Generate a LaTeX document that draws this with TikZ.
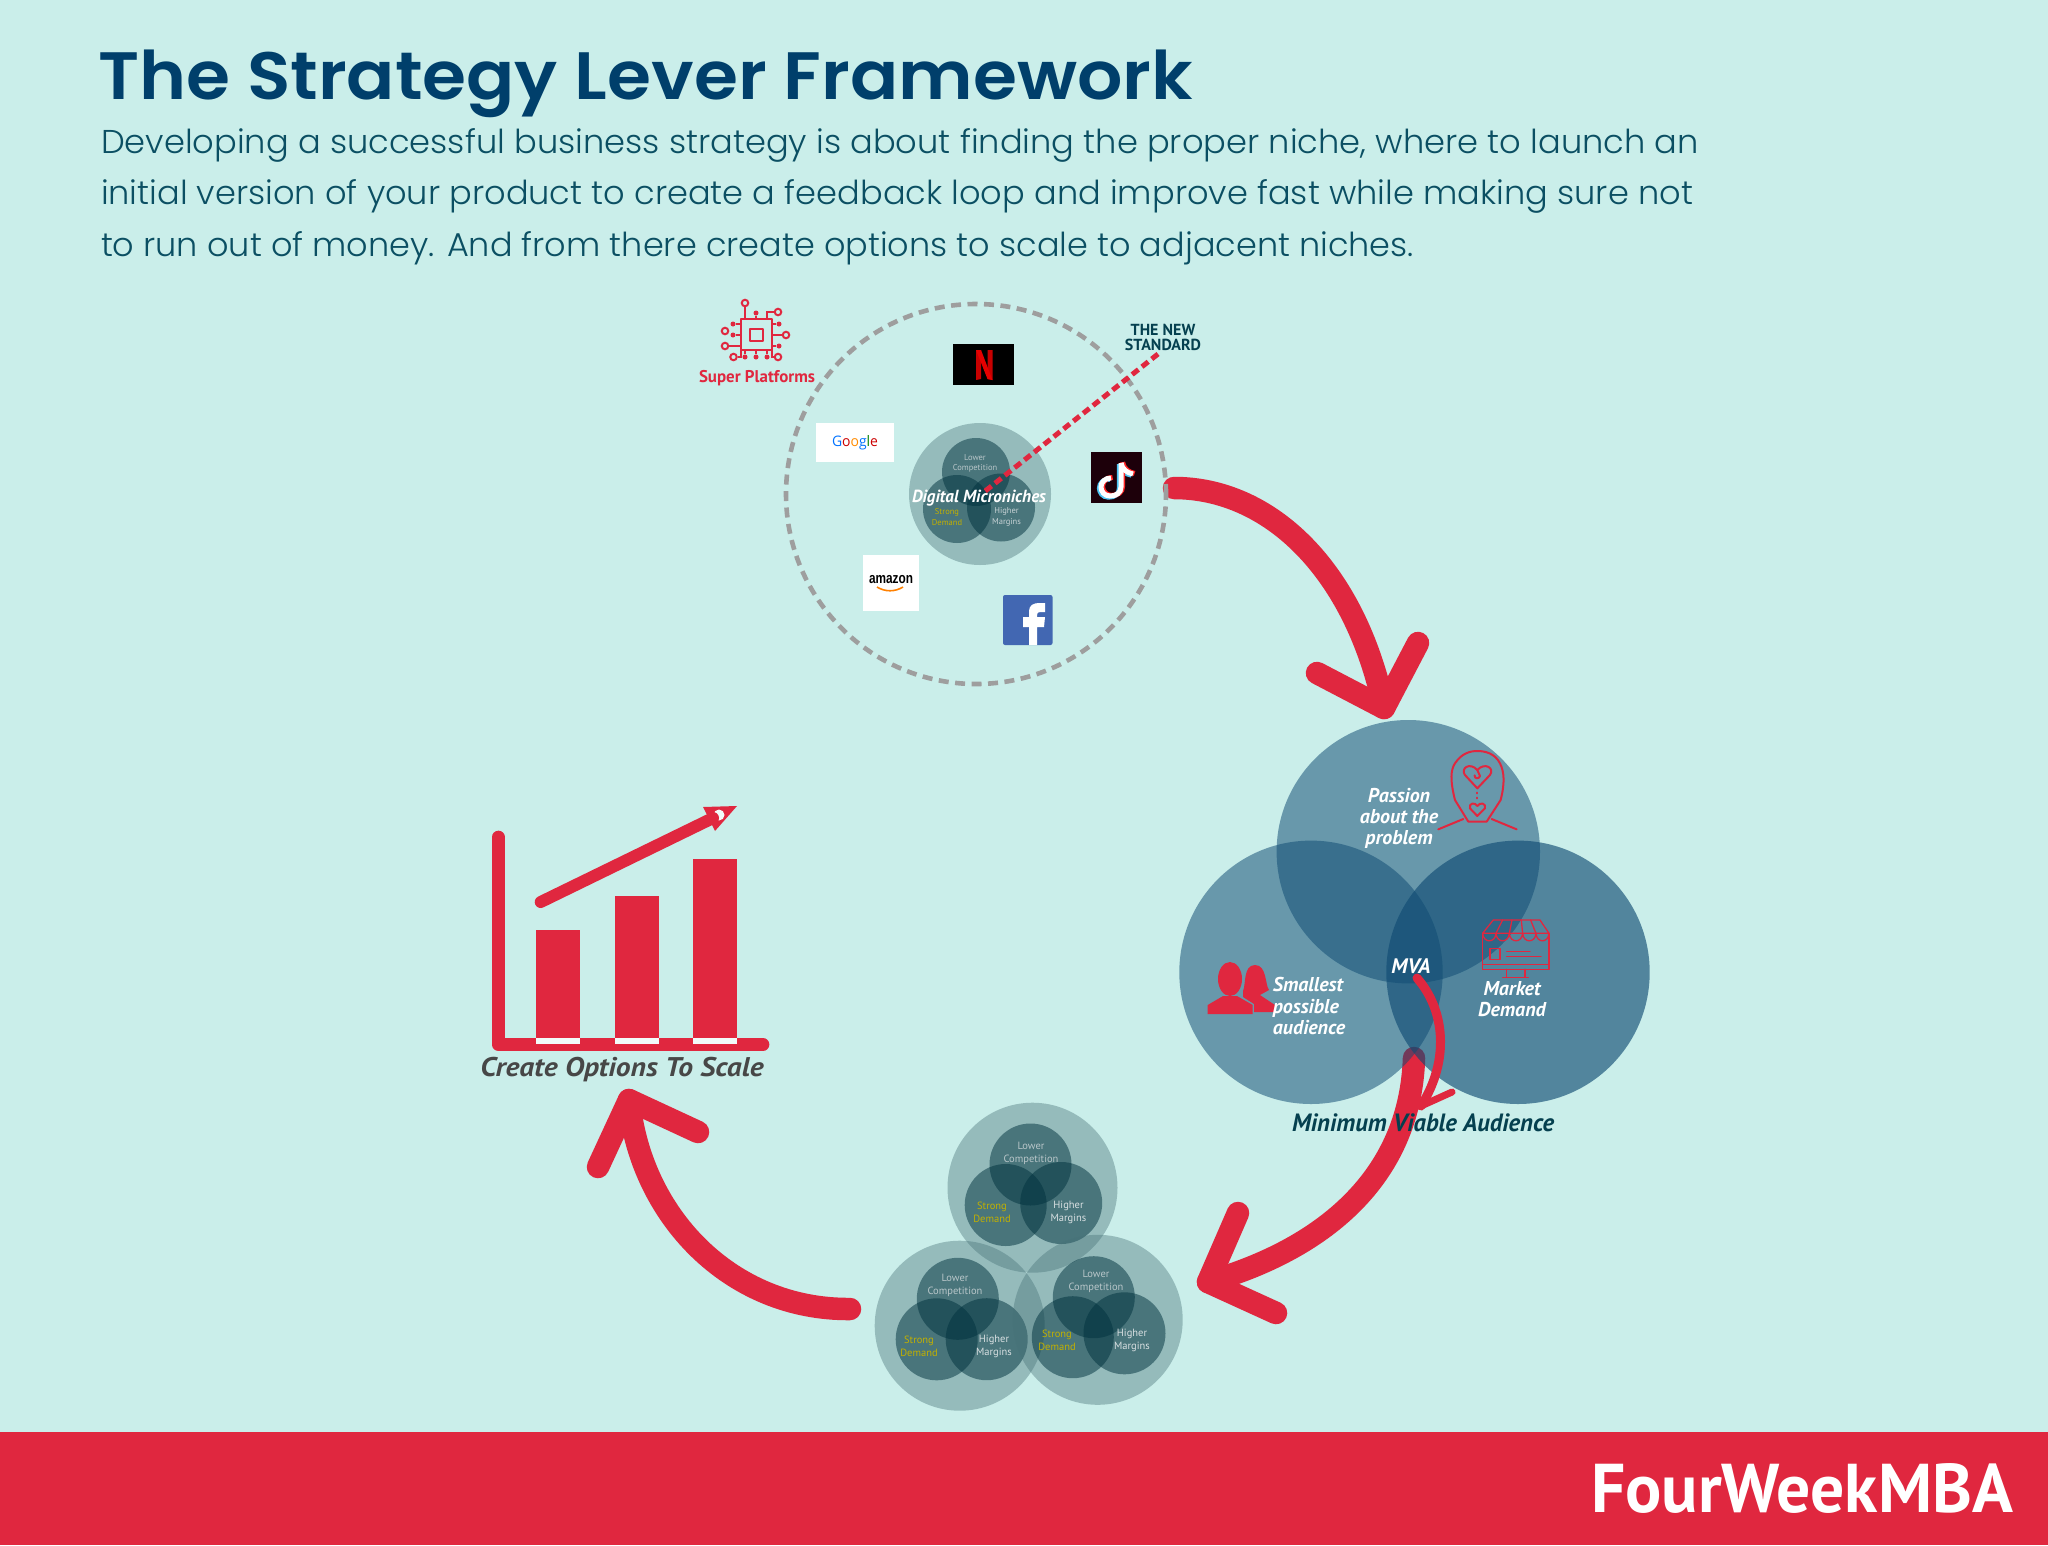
\documentclass[tikz,border=0pt]{standalone}
\usepackage{fontspec}
\usepackage{graphicx}
\setmainfont{Poppins Light}
\newfontfamily\ttlf{Poppins SemiBold}
\newfontfamily\pts{PT Sans}
\newfontfamily\goog{Open Sans}
\newfontfamily\amz{Liberation Sans}
\definecolor{bg}{HTML}{CAEEEA}
\definecolor{rd}{HTML}{E0273F}
\definecolor{ttl}{HTML}{003F6B}
\definecolor{bdy}{HTML}{0B4F63}
\definecolor{deep}{HTML}{0F4B73}
\definecolor{discA}{RGB}{70,112,118}
\definecolor{discB}{HTML}{00323E}
\definecolor{dk}{HTML}{05404F}
\definecolor{strongc}{HTML}{C2B000}
\definecolor{fbblue}{RGB}{66,103,178}
\newcommand{\fitx}[2]{\resizebox{#1pt}{\height}{#2}}
\newcommand{\fsz}[2]{\fontsize{#1}{#2}\selectfont}
\tikzset{
  x=1pt,y=-1pt,
  bigarrow/.style={draw=rd,line width=22.5pt,line cap=round,line join=round},
  bigdisc/.style={circle,fill=discA,fill opacity=.4,draw=none,minimum size=170pt,inner sep=0pt},
  smalldisc/.style={circle,fill=discB,fill opacity=.51,draw=none,minimum size=82pt,inner sep=0pt},
  topbig/.style={circle,fill=discA,fill opacity=.4,draw=none,minimum size=142pt,inner sep=0pt},
  topsmall/.style={circle,fill=discB,fill opacity=.51,draw=none,minimum size=68pt,inner sep=0pt},
  vennA/.style={circle,fill=deep,fill opacity=.52,draw=none,minimum size=263.4pt,inner sep=0pt},
  vennB/.style={circle,fill=deep,fill opacity=.64,draw=none,minimum size=263.4pt,inner sep=0pt},
  txt/.style={inner sep=0pt,outer sep=0pt,anchor=base west},
  lab/.style={inner sep=0pt,outer sep=0pt,align=center,font=\pts\fsz{10.5}{13}},
  labs/.style={inner sep=0pt,outer sep=0pt,align=center,font=\pts\fsz{8.5}{10.5}},
  venntxt/.style={inner sep=0pt,outer sep=0pt,text=white,font=\pts\itshape\bfseries\fsz{20}{21.3}},
  icon/.style={draw=rd,line width=2pt,line join=round,line cap=round},
  pin/.style={draw=rd,line width=2pt},
  ring/.style={circle,draw=rd,line width=2pt,fill=none,minimum size=6.5pt,inner sep=0pt},
  dotp/.style={circle,fill=rd,draw=none,minimum size=5pt,inner sep=0pt},
}
\begin{document}
\begin{tikzpicture}
\useasboundingbox (0,0) rectangle (2048,1545);
\fill[bg] (0,0) rectangle (2048,1545);
\fill[rd] (0,1432) rectangle (2048,1545);
\node[txt,text=white] (brand) at (1591,1512) {\fitx{422}{\pts\bfseries\fsz{69}{70}FourWeekMBA}};

% title
\node[txt,text=ttl] (title) at (98,99) {\fitx{1095}{\ttlf\fsz{67}{70}The Strategy Lever Framework}};
\node[txt,text=bdy] (d1) at (101,153) {\fitx{1598}{\fsz{33}{40}Developing a successful business strategy is about finding the proper niche, where to launch an}};
\node[txt,text=bdy] (d2) at (101,204) {\fitx{1592}{\fsz{33}{40}initial version of your product to create a feedback loop and improve fast while making sure not}};
\node[txt,text=bdy] (d3) at (101,256) {\fitx{1313}{\fsz{33}{40}to run out of money. And from there create options to scale to adjacent niches.}};

% coordinates of connectors
\coordinate (a1s) at (1174,488);
\coordinate (a1t) at (1384,708);
\coordinate (a1p) at (1317,673);
\coordinate (a1q) at (1418,643);
\coordinate (a2s) at (1414,1058);
\coordinate (a2t) at (1208,1282);
\coordinate (a2p) at (1238,1213);
\coordinate (a2q) at (1276,1313);
\coordinate (a3s) at (850,1309);
\coordinate (a3t) at (629,1100);
\coordinate (a3p) at (598,1167);
\coordinate (a3q) at (698,1132);
\coordinate (m1) at (1417,978);
\coordinate (m2) at (1421,1106);
\coordinate (m3) at (1452,1092);
\coordinate (nsA) at (1158,354);
\coordinate (nsB) at (984,492);

% big arrows
\draw[bigarrow] (a1s) .. controls (1270,488) and (1355,570) .. (a1t);
\draw[bigarrow] (a1p) -- (a1t) -- (a1q);
\draw[bigarrow] (a2s) .. controls (1410,1180) and (1320,1250) .. (a2t);
\draw[bigarrow] (a2p) -- (a2t) -- (a2q);
\draw[bigarrow] (a3s) .. controls (730,1310) and (640,1215) .. (a3t);
\draw[bigarrow] (a3p) -- (a3t) -- (a3q);

% platform circle
\node[circle,draw=black!38!white,line width=4.6pt,dash pattern=on 10pt off 6.5pt,minimum size=380pt,inner sep=0pt] (plat) at (976,494) {};
\node[topbig] (tb) at (980,494) {};
\node[topsmall] (t1) at (976,472) {};
\node[topsmall] (t2) at (957,509) {};
\node[topsmall] (t3) at (1001,507.5) {};
\node[labs,text=white!72!discB] (t1l) at (975,463.5) {Lower\\Competition};
\node[labs,text=strongc] (t2l) at (947,517) {Strong\\Demand};
\node[labs,text=white!78!discB] (t3l) at (1006.5,517) {Higher\\Margins};
\draw[draw=rd,line width=5pt,dash pattern=on 8pt off 4.5pt] (nsA) -- (nsB);
\node[inner sep=0pt,text=white,font=\pts\itshape\bfseries\fsz{17.5}{20}] (dm) at (979,498) {\fitx{134}{Digital Microniches}};
\node[inner sep=0pt,align=center,text=dk,font=\pts\bfseries\fsz{16}{15.5}] (newstd) at (1163,337.5) {THE NEW\\STANDARD};

% logos
\fill[black] (953,344) rectangle (1014,385);
\fill[red!78!black] (976,350) -- (981,350) -- (981,379) -- (976,380) -- cycle;
\fill[red!78!black] (987.5,350) -- (992.5,350) -- (992.5,380) -- (987.5,379) -- cycle;
\fill[red!90!black] (976,350) -- (981,350) -- (992.5,380) -- (987.5,379) -- cycle;
\fill[white] (816,423) rectangle (894,462);
\node[inner sep=0pt,font=\goog\fsz{14.5}{16}] (gg) at (855,443) {\fitx{46}{\textcolor{blue!55!cyan}{G}\textcolor{red!80!black}{o}\textcolor{orange!90!yellow}{o}\textcolor{blue!55!cyan}{g}\textcolor{green!50!black}{l}\textcolor{red!80!black}{e}}};
\fill[black!85!purple] (1091,452) rectangle (1142,503);
\foreach \dx/\dy/\cc in {-1.6/1.2/cyan!70!white,1.6/-0.6/red!85!white,0/0/white}{
  \draw[shift={(\dx,\dy)},draw=\cc,line width=5pt] (1121,463) -- (1121,487) .. controls (1121,493) and (1116,496) .. (1110,496) .. controls (1104,496) and (1101,491) .. (1101,487) .. controls (1101,482) and (1105,478) .. (1111,478);
  \draw[shift={(\dx,\dy)},draw=\cc,line width=5pt] (1121,463) .. controls (1122,469) and (1127,473) .. (1133,474);
}
\fill[white] (863,555) rectangle (919,611);
\node[inner sep=0pt,text=black,font=\amz\bfseries\fsz{15}{16}] (amzn) at (891,580) {\fitx{44}{amazon}};
\draw[draw=orange,line width=1.6pt] (877,587) .. controls (885,592) and (895,592) .. (903,587);
\fill[fbblue,rounded corners=2pt] (1003,595) rectangle (1052.5,645);
\fill[white] (1029,645) -- (1029,627) -- (1023,627) -- (1023,617) -- (1029,617) -- (1029,611) .. controls (1029,605) and (1034,603) .. (1039,603) -- (1045,603) -- (1045,612) -- (1040,612) .. controls (1038,612) and (1037,613) .. (1037,615) -- (1037,617) -- (1045,617) -- (1044,627) -- (1037,627) -- (1037,645) -- cycle;

% chip
\node[inner sep=0pt,text=rd,font=\pts\bfseries\fsz{17}{18}] (sp) at (757,378) {\fitx{116}{Super Platforms}};
\draw[icon,line width=2.6pt] (741,319) rectangle (772,350);
\draw[icon,line width=2.6pt] (750,329) rectangle (763,341);
\node[ring] (r1) at (745,303) {};
\node[ring] (r2) at (778,312) {};
\node[ring] (r3) at (725,331) {};
\node[ring] (r4) at (725,346) {};
\node[ring] (r5) at (786,335) {};
\node[ring] (r6) at (733.5,357) {};
\node[ring] (r7) at (778,357) {};
\node[dotp] (p1) at (756,313) {};
\node[dotp] (p2) at (733,324) {};
\node[dotp] (p3) at (733,335) {};
\node[dotp] (p4) at (779,324) {};
\node[dotp] (p5) at (779,346) {};
\node[dotp] (p6) at (745,357) {};
\node[dotp] (p7) at (756,357) {};
\node[dotp] (p8) at (767,357) {};
\draw[pin] (r1) -- (745,319);
\draw[pin] (p1) -- (756,319);
\draw[pin] (r2) -- (767,312) -- (767,319);
\draw[pin] (p2) -- (741,324);
\draw[pin] (p3) -- (741,335);
\draw[pin] (r4) -- (741,346);
\draw[pin] (p4) -- (772,324);
\draw[pin] (r5) -- (772,335);
\draw[pin] (p5) -- (772,346);
\draw[pin] (r6) -- (741,357) -- (741,350);
\draw[pin] (p6) -- (745,350);
\draw[pin] (p7) -- (756,350);
\draw[pin] (p8) -- (767,350);
\draw[pin] (r7) -- (772,357) -- (772,350);

% MVA venn
\node[vennA] (vt) at (1408.3,851.7) {};
\node[vennA] (vl) at (1311,972.3) {};
\node[vennB] (vr) at (1518,972.3) {};
\draw[draw=rd,line width=9pt,line cap=round] (m1) .. controls (1445,1010) and (1450,1060) .. (m2);
\draw[draw=rd,line width=7pt,line cap=round] (m3) -- (m2);
\node[inner sep=0pt,text=dk,font=\pts\itshape\bfseries\fsz{25}{26}] (mvt) at (1423,1123) {\fitx{262}{Minimum Viable Audience}};

% users icon
\fill[rd] (1230,979) ellipse [x radius=12,y radius=17];
\fill[rd] (1207.7,1014) -- (1207.7,1005) -- (1223,996) -- (1237,996) -- (1252.7,1005) -- (1252.7,1014) -- cycle;
\fill[rd] (1243,991) .. controls (1246,985) and (1243,965) .. (1255,965) .. controls (1267,965) and (1265,985) .. (1269,990) -- (1260,995) -- (1275,1005) -- (1275,1012) -- (1254,1012) -- (1254,1004) -- (1243,997) -- cycle;

\node[venntxt,align=center] (vp) at (1399,818.5) {Passion\\about the\\problem};
\node[venntxt,align=left] (vs) at (1309,1006) {Smallest\\possible\\audience};
\node[venntxt,align=center] (vm) at (1512,999) {Market\\Demand};
\node[venntxt,font=\pts\itshape\bfseries\fsz{21}{22}] (mva) at (1411,966) {MVA};

% passion icon
\begin{scope}[shift={(1160,700)},x=.3333pt,y=-.3333pt]
\draw[icon] (885,300) .. controls (870,240) and (872,210) .. (885,190) .. controls (905,160) and (930,153) .. (952,153) .. controls (975,153) and (1005,160) .. (1020,190) .. controls (1033,215) and (1035,250) .. (1022,300) -- (980,365) -- (925,365) -- cycle;
\draw[icon] (835,388) -- (910,357);
\draw[icon] (995,357) -- (1070,388);
\draw[icon] (952,265) -- (915,225) .. controls (900,205) and (930,185) .. (952,210) .. controls (975,185) and (1005,205) .. (990,225) -- cycle;
\draw[icon] (952,210) -- (960,228) .. controls (958,238) and (942,236) .. (944,226);
\draw[icon] (952,348) -- (930,325) .. controls (925,310) and (945,305) .. (952,318) .. controls (960,305) and (980,310) .. (975,325) -- cycle;
\draw[icon] (952,278) -- (952,280) (952,293) -- (952,295);
\end{scope}

% store icon
\begin{scope}[shift={(1160,700)},x=.3333pt,y=-.3333pt]
\draw[icon,line width=1.3pt] (1000,660) -- (1140,660) -- (1167,700) -- (968,700) -- cycle;
\draw[icon,line width=1.3pt] (1028,660) -- (1008,700) (1056,660) -- (1048,700) (1084,660) -- (1088,700) (1112,660) -- (1128,700);
\draw[icon,line width=1.3pt] (968,700) .. controls (970,730) and (1006,730) .. (1008,700) .. controls (1010,730) and (1046,730) .. (1048,700) .. controls (1050,730) and (1086,730) .. (1088,700) .. controls (1090,730) and (1126,730) .. (1128,700) .. controls (1130,730) and (1165,730) .. (1167,700);
\draw[icon,line width=1.3pt] (968,700) -- (968,808) -- (1167,808) -- (1167,700);
\draw[icon,line width=1pt] (968,795) -- (1167,795);
\draw[icon,line width=1.3pt] (990,745) rectangle (1020,778);
\draw[icon,line width=1.3pt] (1040,755) -- (1110,755) (1040,770) -- (1143,770);
\draw[icon,line width=1.3pt] (1040,808) -- (1040,832) (1095,808) -- (1095,832) (1028,832) -- (1105,832);
\end{scope}

% chart
\draw[draw=rd,line width=12.7pt,line cap=round,line join=round] (498.3,837) -- (498.3,1044.5) -- (763,1044.5);
\fill[rd] (536,930) rectangle (580,1038);
\fill[rd] (615,896) rectangle (659,1038);
\fill[rd] (693,859) rectangle (737,1038);
\fill[white!75!bg] (536,1038) rectangle (580,1044);
\fill[white!75!bg] (615,1038) rectangle (659,1044);
\fill[white!75!bg] (693,1038) rectangle (737,1044);
\fill[rd] (703,807) -- (737,806) -- (715,831) -- cycle;
\fill[white!75!bg] (719,815) circle [radius=5.5];
\coordinate (csA) at (540.7,902);
\coordinate (csB) at (713,818);
\draw[draw=rd,line width=12pt,line cap=round] (csA) -- (csB);
\node[inner sep=0pt,text=black!72!white,font=\pts\itshape\bfseries\fsz{27}{28}] (cots) at (622,1069.5) {\fitx{283}{Create Options To Scale}};

% micro niche groups
\node[bigdisc] (g1) at (1032.5,1187.7) {};
\node[smalldisc] (g1a) at (1030.5,1164.5) {};
\node[smalldisc] (g1b) at (1005.7,1205) {};
\node[smalldisc] (g1c) at (1061.2,1203) {};
\node[bigdisc] (g2) at (959.7,1325.7) {};
\node[smalldisc] (g2a) at (957.8,1298.8) {};
\node[smalldisc] (g2b) at (936.7,1339.3) {};
\node[smalldisc] (g2c) at (986.7,1339.2) {};
\node[bigdisc] (g3) at (1097.7,1319.8) {};
\node[smalldisc] (g3a) at (1093.8,1297.2) {};
\node[smalldisc] (g3b) at (1072.8,1337.2) {};
\node[smalldisc] (g3c) at (1124.5,1333.3) {};
\node[lab,text=white!72!discB] (g1al) at (1031,1153.5) {Lower\\Competition};
\node[lab,text=strongc] (g1bl) at (992,1212.5) {Strong\\Demand};
\node[lab,text=white!85!discB] (g1cl) at (1068.5,1212.5) {Higher\\Margins};
\node[lab,text=white!72!discB] (g2al) at (955,1285) {Lower\\Competition};
\node[lab,text=strongc] (g2bl) at (919,1346) {Strong\\Demand};
\node[lab,text=white!85!discB] (g2cl) at (994,1346) {Higher\\Margins};
\node[lab,text=white!72!discB] (g3al) at (1096,1281) {Lower\\Competition};
\node[lab,text=strongc] (g3bl) at (1057,1340) {Strong\\Demand};
\node[lab,text=white!85!discB] (g3cl) at (1132,1340) {Higher\\Margins};
\end{tikzpicture}
\end{document}
